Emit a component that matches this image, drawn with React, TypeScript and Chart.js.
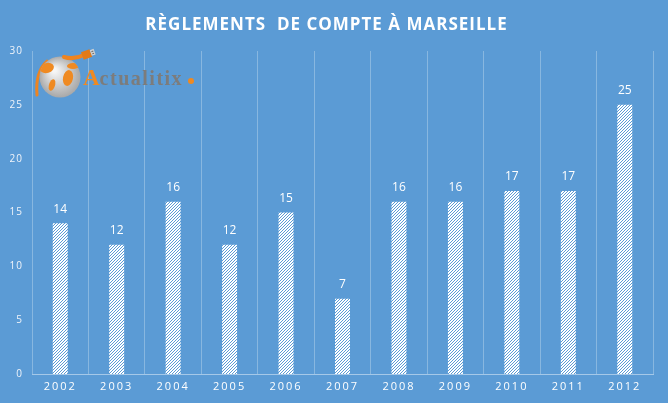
import React, { useEffect, useRef } from "react";
import { Chart, registerables } from "chart.js";

Chart.register(...registerables);

const categories = ["2002", "2003", "2004", "2005", "2006", "2007", "2008", "2009", "2010", "2011", "2012"];
const values = [14, 12, 16, 12, 15, 7, 16, 16, 17, 17, 25];
const yMin = 0;
const yMax = 30;
const yStep = 5;
const titleText = "RÈGLEMENTS  DE COMPTE À MARSEILLE";
const logoInitial = "A";
const logoRest = "ctualitix";

const BG = "#5B9BD5";

function makeHatch(): CanvasPattern | string {
  const c = document.createElement("canvas");
  c.width = 6;
  c.height = 6;
  const g = c.getContext("2d");
  if (!g) return "#ffffff";
  for (let y = 0; y < 6; y++) {
    for (let x = 0; x < 6; x++) {
      if ((x + y) % 3 < 2) {
        g.fillStyle = "#ffffff";
        g.fillRect(x, y, 1, 1);
      }
    }
  }
  const p = g.createPattern(c, "repeat");
  return p || "#ffffff";
}

function drawLogo(ctx: CanvasRenderingContext2D) {
  ctx.save();
  ctx.letterSpacing = "0px";
  // swoosh on the left
  ctx.strokeStyle = "#ee8420";
  ctx.lineWidth = 3;
  ctx.lineCap = "round";
  ctx.beginPath();
  ctx.moveTo(37, 95);
  ctx.quadraticCurveTo(35, 72, 47, 61);
  ctx.stroke();
  // globe
  const gr = ctx.createRadialGradient(54, 70, 2, 60, 77, 21);
  gr.addColorStop(0, "#f6f6f6");
  gr.addColorStop(1, "#a7a7a7");
  ctx.fillStyle = gr;
  ctx.beginPath();
  ctx.arc(60, 77, 20.5, 0, Math.PI * 2);
  ctx.fill();
  ctx.save();
  ctx.clip();
  ctx.fillStyle = "#ef8a22";
  ctx.beginPath();
  ctx.ellipse(47, 68, 7, 5, -0.3, 0, Math.PI * 2);
  ctx.fill();
  ctx.beginPath();
  ctx.ellipse(52, 85, 3, 6, 0.3, 0, Math.PI * 2);
  ctx.fill();
  ctx.beginPath();
  ctx.ellipse(68, 78, 5, 8, 0.2, 0, Math.PI * 2);
  ctx.fill();
  ctx.beginPath();
  ctx.ellipse(73, 66, 6, 3, 0, 0, Math.PI * 2);
  ctx.fill();
  ctx.restore();
  // cable and plug
  ctx.strokeStyle = "#ee8420";
  ctx.lineWidth = 4;
  ctx.beginPath();
  ctx.moveTo(64, 57);
  ctx.quadraticCurveTo(74, 60, 84, 55);
  ctx.stroke();
  ctx.save();
  ctx.translate(88, 54);
  ctx.rotate(-0.35);
  ctx.fillStyle = "#e27a18";
  ctx.fillRect(-6, -4, 9, 8);
  ctx.fillStyle = "#d2d2d2";
  ctx.fillRect(3, -3, 4, 6);
  ctx.fillStyle = "#6e6e6e";
  ctx.fillRect(4, -1.5, 2, 1);
  ctx.fillRect(4, 0.8, 2, 1);
  ctx.restore();
  // text
  ctx.textBaseline = "alphabetic";
  ctx.textAlign = "left";
  ctx.font = 'bold 23px "Liberation Serif"';
  ctx.fillStyle = "#ef8a22";
  ctx.fillText(logoInitial, 83, 85);
  const w = ctx.measureText(logoInitial).width;
  ctx.font = 'bold 20px "Liberation Serif"';
  ctx.letterSpacing = "1.5px";
  ctx.fillStyle = "#7c7c7c";
  ctx.fillText(logoRest, 83 + w, 85);
  ctx.letterSpacing = "0px";
  ctx.fillStyle = "#ef8a22";
  ctx.beginPath();
  ctx.arc(191, 81, 3, 0, Math.PI * 2);
  ctx.fill();
  ctx.restore();
}

const overlayPlugin = {
  id: "overlay",
  beforeDraw(chart: any) {
    // title and y tick labels drawn with slight letter spacing
    chart.ctx.letterSpacing = "1px";
  },
  afterDatasetsDraw(chart: any) {
    const ctx: CanvasRenderingContext2D = chart.ctx;
    const meta = chart.getDatasetMeta(0);
    ctx.save();
    ctx.letterSpacing = "0px";
    ctx.font = '12px "Open Sans"';
    ctx.fillStyle = "#ffffff";
    ctx.textAlign = "center";
    ctx.textBaseline = "middle";
    meta.data.forEach((el: any, i: number) => {
      ctx.fillText(String(values[i]), el.x, el.y - 14);
    });
    ctx.restore();
    // x tick labels (drawn after datasets, z = 1) get letter spacing
    ctx.letterSpacing = "2px";
  },
  afterDraw(chart: any) {
    const ctx: CanvasRenderingContext2D = chart.ctx;
    ctx.letterSpacing = "0px";
    drawLogo(ctx);
  },
};

export default function App() {
  const ref = useRef<HTMLCanvasElement | null>(null);

  useEffect(() => {
    document.body.style.margin = "0";
    if (!ref.current) return;
    const hatch = makeHatch();
    const chart = new Chart(ref.current, {
      type: "bar",
      data: {
        labels: categories,
        datasets: [
          {
            data: values,
            backgroundColor: hatch as any,
            borderWidth: 0,
            barPercentage: 0.265,
            categoryPercentage: 1,
          },
        ],
      },
      options: {
        animation: false,
        responsive: false,
        devicePixelRatio: 1,
        layout: { padding: { left: 0, right: 15, top: 0, bottom: 0 } },
        plugins: {
          legend: { display: false },
          tooltip: { enabled: false },
          title: {
            display: true,
            text: titleText,
            color: "#ffffff",
            font: { family: "Open Sans", size: 17, weight: "bold" },
            padding: { top: 15, bottom: 15.6 },
          },
        },
        scales: {
          x: {
            grid: {
              display: true,
              offset: true,
              color: "rgba(255,255,255,0.28)",
              drawTicks: false,
              lineWidth: 1,
            },
            border: { display: true, color: "rgba(255,255,255,0.45)", width: 1 },
            ticks: {
              color: "#ffffff",
              font: { family: "Open Sans", size: 11 },
              padding: 6,
              maxRotation: 0,
              autoSkip: false,
              z: 1,
            },
            afterFit: (s: any) => {
              s.height = 29;
            },
          },
          y: {
            min: yMin,
            max: yMax,
            grid: { display: false, drawTicks: false },
            border: { display: false },
            ticks: {
              stepSize: yStep,
              color: "#f0f4fa",
              font: { family: "Open Sans", size: 10 },
              padding: 9,
            },
            afterFit: (s: any) => {
              s.width = 32;
            },
          },
        },
      },
      plugins: [overlayPlugin],
    });
    return () => chart.destroy();
  }, []);

  return (
    <div style={{ position: "fixed", left: 0, top: 0, width: 668, height: 403, background: BG }}>
      <canvas ref={ref} width={668} height={403} style={{ display: "block" }} />
    </div>
  );
}
